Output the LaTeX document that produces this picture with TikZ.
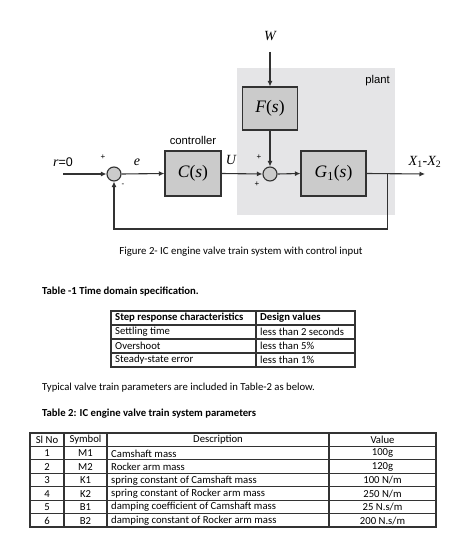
\documentclass[tikz,border=0pt]{standalone}
\usepackage{fontspec}
\setmainfont{Carlito}
\newfontfamily\arialf{Liberation Sans}
\newfontfamily\tnr{Liberation Serif}
\usetikzlibrary{arrows.meta}
\definecolor{plantbg}{RGB}{229,229,231}
\definecolor{blkfill}{RGB}{203,203,203}
\definecolor{blkline}{RGB}{50,50,50}
\begin{document}
\begin{tikzpicture}[x=1pt,y=-1pt,
  blk/.style={draw=blkline,line width=1.1pt,fill=blkfill,inner sep=0pt,font=\tnr\fontsize{17.5}{17.5}\selectfont},
  sumj/.style={circle,draw=blkline,line width=1.1pt,fill=blkfill,minimum size=14pt,inner sep=0pt},
  sig/.style={line width=1.1pt,draw=blkline,-{Latex[length=5.5pt,width=5pt]}},
  lbl/.style={font=\tnr\itshape\fontsize{14}{14}\selectfont,inner sep=0pt},
  sgn/.style={font=\arialf\fontsize{8}{8}\selectfont,inner sep=0pt},
  tag/.style={font=\arialf\fontsize{11.3}{11.3}\selectfont,inner sep=0pt},
  txt/.style={font=\fontsize{10.7}{12}\selectfont,inner sep=0pt,anchor=west},
  btxt/.style={font=\bfseries\fontsize{10.7}{12}\selectfont,inner sep=0pt,anchor=west},
  cell/.style={font=\fontsize{10.7}{12}\selectfont,inner sep=0pt},
  grid/.style={line width=1.1pt,draw=black!80}
]
\useasboundingbox (0,0) rectangle (474,540);
\fill[white] (0,0) rectangle (474,540);
% plant background
\fill[plantbg] (237,68) rectangle (395,215);
\node[tag,anchor=east] (plantlbl) at (390,81) {plant};
% blocks
\node[blk,minimum width=55pt,minimum height=43pt] (F) at (270,108.5) {\itshape F\upshape(\itshape s\upshape)};
\node[blk,minimum width=56pt,minimum height=45pt] (C) at (193,173.5) {\itshape C\upshape(\itshape s\upshape)};
\node[blk,minimum width=65pt,minimum height=45pt] (G) at (333.5,173.5) {\itshape G\textsubscript{\upshape 1}\upshape(\itshape s\upshape)};
\node[sumj] (S1) at (114,174) {};
\node[sumj] (S2) at (270,174) {};
% coordinates
\coordinate (in) at (63,174);
\coordinate (Win) at (270,52);
\coordinate (out) at (425,174);
\coordinate (br) at (387.5,174);
\coordinate (fb1) at (387.5,229);
\coordinate (fb2) at (114,229);
% connectors
\draw[sig] (in) -- (S1.west);
\draw[sig] (S1.east) -- (C.west);
\draw[sig] (C.east) -- (S2.west);
\draw[sig] (S2.east) -- (G.west);
\draw[sig] (G.east) -- (out);
\draw[sig] (Win) -- (F.north);
\draw[sig] (F.south) -- (S2.north);
\draw[sig] (br) -- (fb1) -- (fb2) -- (S1.south);
% labels
\node[lbl] (Wl) at (270,36) {W};
\node[lbl] (rl) at (63,162) {r{\arialf\upshape\fontsize{12.5}{12.5}\selectfont=0}};
\node[lbl] (el) at (137,162) {e};
\node[lbl] (Ul) at (231,160) {U};
\node[lbl] (Xl) at (425,162) {X\textsubscript{\upshape 1}\upshape-\itshape X\textsubscript{\upshape 2}};
\node[tag] (ctl) at (193,140) {controller};
\node[sgn] (p1) at (103,157) {+};
\node[sgn] (m1) at (123,185) {-};
\node[sgn] (p2) at (259,157) {+};
\node[sgn] (p3) at (257,184) {+};
% caption and titles
\node[font=\fontsize{10.8}{12}\selectfont,inner sep=0pt] (cap) at (241,252) {Figure 2- IC engine valve train system with control input};
\node[btxt] (t1title) at (42,292) {Table -1 Time domain specification.};
\node[txt] (para) at (42,388) {Typical valve train parameters are included in Table-2 as below.};
\node[btxt] (t2title) at (42,414) {Table 2: IC engine valve train system parameters};
% table 1
\draw[grid] (111,311) rectangle (355,367);
\foreach \y in {325,339,353} \draw[grid] (111,\y) -- (355,\y);
\draw[grid] (256,311) -- (256,367);
\node[cell,anchor=west,font=\bfseries\fontsize{10.7}{12}\selectfont] (h11) at (115,318) {Step response characteristics};
\node[cell,anchor=west,font=\bfseries\fontsize{10.7}{12}\selectfont] (h12) at (260,318) {Design values};
\node[cell,anchor=west] (a11) at (115,332) {Settling time};
\node[cell,anchor=west] (a12) at (260,332) {less than 2 seconds};
\node[cell,anchor=west] (a21) at (115,346) {Overshoot};
\node[cell,anchor=west] (a22) at (260,346) {less than 5\%};
\node[cell,anchor=west] (a31) at (115,360) {Steady-state error};
\node[cell,anchor=west] (a32) at (260,360) {less than 1\%};
% table 2
\draw[grid] (30,433) rectangle (436,527);
\foreach \k in {1,...,6} \draw[grid] (30,{433+13.43*\k}) -- (436,{433+13.43*\k});
\foreach \x in {64,107,329} \draw[grid] (\x,433) -- (\x,527);
\node[cell] (hsl) at (47,440) {Sl No};
\node[cell] (hsy) at (85.5,440) {Symbol};
\node[cell] (hde) at (218,440) {Description};
\node[cell] (hva) at (382.5,440) {Value};
\foreach \k/\s/\d/\v in {1/M1/Camshaft mass/100g,2/M2/Rocker arm mass/120g,3/K1/spring constant of Camshaft mass/100 N\slash m,4/K2/spring constant of Rocker arm mass/250 N\slash m,5/B1/damping coefficient of Camshaft mass/25 N.s\slash m,6/B2/damping constant of Rocker arm mass/200 N.s\slash m}{
  \node[cell] (n\k) at (47,{440+13.43*\k}) {\k};
  \node[cell] (s\k) at (85.5,{440+13.43*\k}) {\s};
  \node[cell,anchor=west] (d\k) at (111,{440+13.43*\k}) {\d};
  \node[cell] (v\k) at (382.5,{440+13.43*\k}) {\v};
}
\end{tikzpicture}
\end{document}
